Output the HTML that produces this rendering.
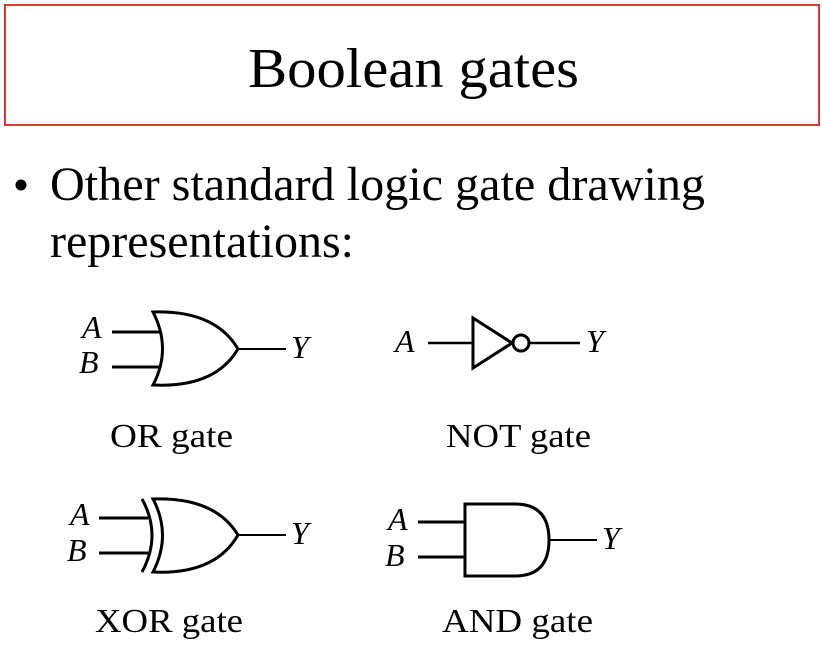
<!DOCTYPE html>
<html><head><meta charset="utf-8"><style>
html,body{margin:0;padding:0;background:#fff;}
svg{display:block;}
text{font-family:"Liberation Serif",serif;fill:#000;}
.l{font-style:italic;font-size:32px;}
</style></head><body>
<svg width="822" height="647" viewBox="0 0 822 647" xmlns="http://www.w3.org/2000/svg">
<rect x="5" y="5" width="814" height="120" fill="none" stroke="#e0372c" stroke-width="2"/>
<text x="248" y="87" font-size="56" textLength="331" lengthAdjust="spacingAndGlyphs">Boolean gates</text>
<circle cx="21" cy="185" r="5.5" fill="#000"/>
<text x="50" y="200" font-size="48" textLength="655" lengthAdjust="spacingAndGlyphs">Other standard logic gate drawing</text>
<text x="50" y="257" font-size="48" textLength="304" lengthAdjust="spacingAndGlyphs">representations:</text>

<g fill="none" stroke="#000" stroke-width="3">
<path d="M153 312 Q172 349 153 385 Q215 388 238 349 Q215 310 153 312 Z"/>
<line x1="112" y1="332" x2="161" y2="332"/><line x1="112" y1="367" x2="161" y2="367"/>
<line x1="238" y1="349" x2="286" y2="349" stroke-width="2"/>
<line x1="428" y1="343" x2="473" y2="343" stroke-width="2.5"/>
<path d="M473 318 L512 343 L473 368 Z"/>
<circle cx="521" cy="343" r="8"/>
<line x1="529" y1="343" x2="580" y2="343" stroke-width="2.5"/>
<path d="M142 499 Q162 535 142 572"/>
<path d="M153 499 Q172 535 153 572 Q215 575 238 535 Q215 497 153 499 Z"/>
<line x1="99" y1="518" x2="148" y2="518"/><line x1="99" y1="553" x2="148" y2="553"/>
<line x1="238" y1="535" x2="286" y2="535" stroke-width="2"/>
<path d="M465 504 L515 504 Q549 504 549 540 Q549 576 515 576 L465 576 Z"/>
<line x1="418" y1="522" x2="465" y2="522"/><line x1="418" y1="557" x2="465" y2="557"/>
<line x1="549" y1="540" x2="597" y2="540" stroke-width="2"/>
</g>

<text class="l" x="82" y="338">A</text><text class="l" x="79" y="373">B</text><text class="l" x="291" y="358">Y</text>
<text class="l" x="395" y="352">A</text><text class="l" x="586" y="352">Y</text>
<text class="l" x="70" y="525">A</text><text class="l" x="67" y="561">B</text><text class="l" x="291" y="544">Y</text>
<text class="l" x="388" y="530">A</text><text class="l" x="385" y="566">B</text><text class="l" x="602" y="549">Y</text>

<text x="110" y="447" font-size="34" textLength="123" lengthAdjust="spacingAndGlyphs">OR gate</text>
<text x="446" y="447" font-size="34" textLength="145" lengthAdjust="spacingAndGlyphs">NOT gate</text>
<text x="95" y="632" font-size="34" textLength="148" lengthAdjust="spacingAndGlyphs">XOR gate</text>
<text x="442" y="632" font-size="34" textLength="151" lengthAdjust="spacingAndGlyphs">AND gate</text>
</svg>
</body></html>
